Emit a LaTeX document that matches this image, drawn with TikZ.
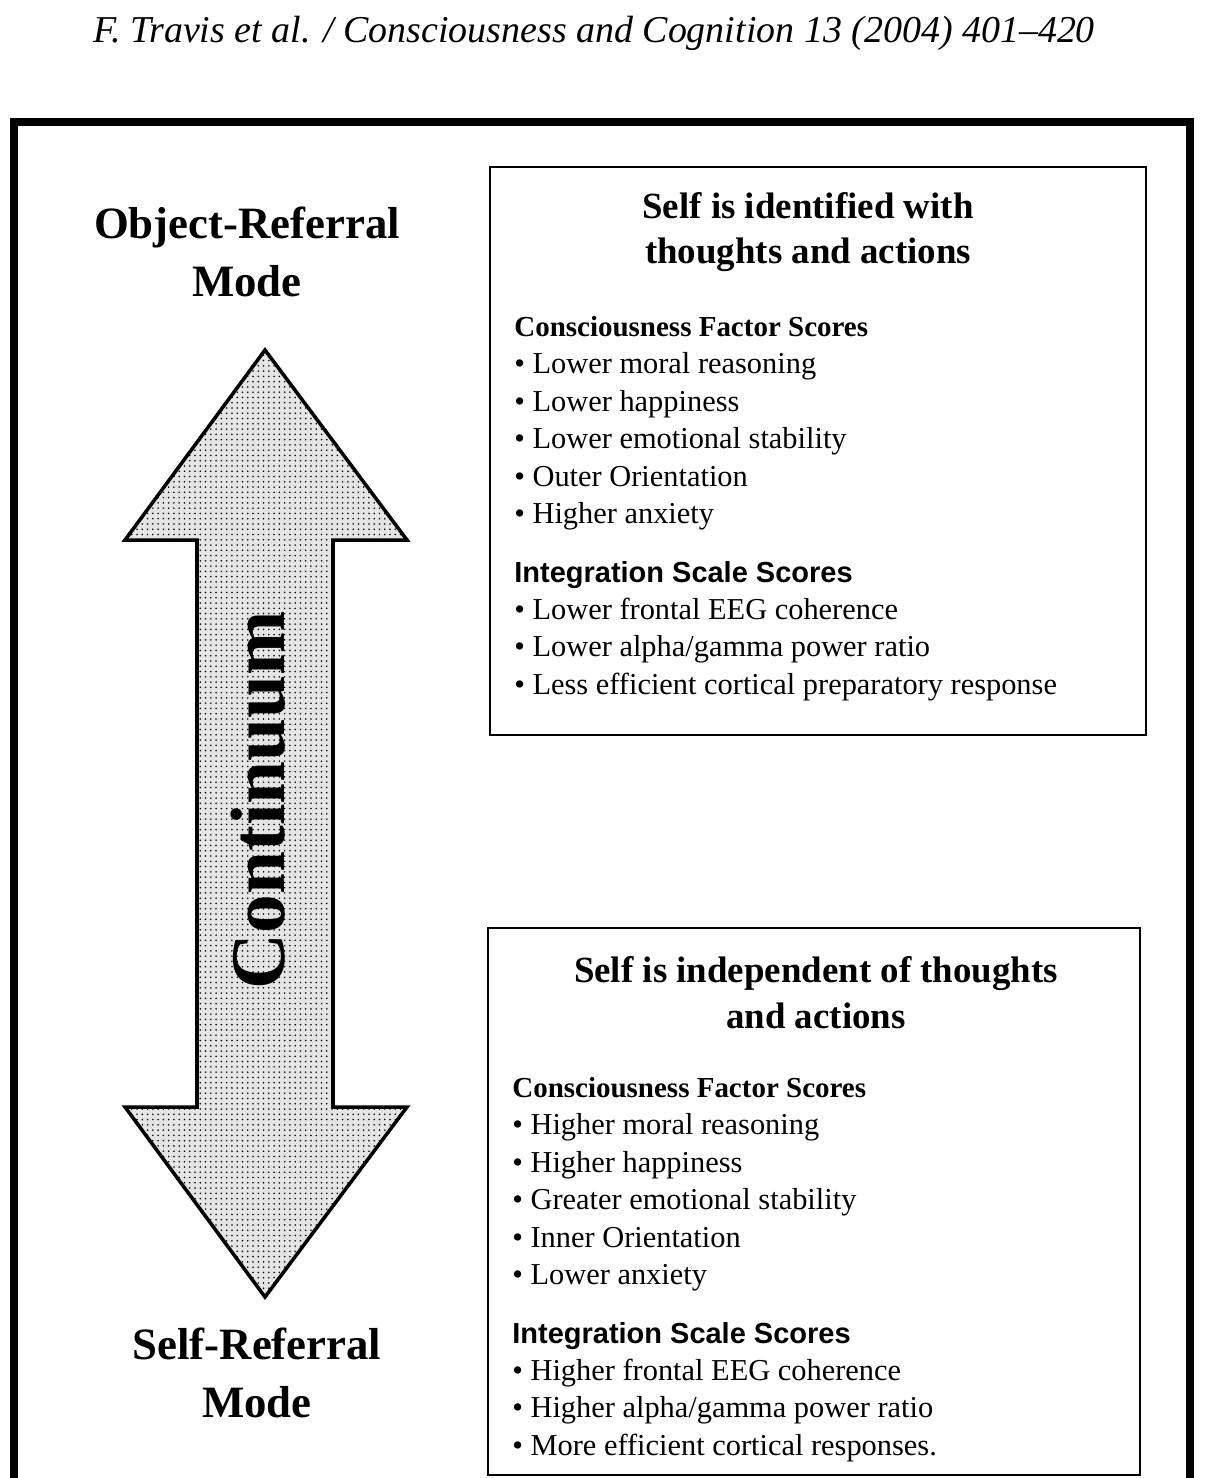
\documentclass[tikz,border=0pt]{standalone}
\usepackage{fontspec}
\setmainfont{Liberation Serif}
\newfontfamily\headsans{Liberation Sans}
\usetikzlibrary{patterns}
\tikzset{
  mode/.style={font=\fontsize{25.5}{33}\selectfont\bfseries,align=center},
  boxhead/.style={font=\fontsize{21}{26}\selectfont\bfseries,align=center},
  items/.style={anchor=north west,align=left,font=\fontsize{17.3}{21.3}\selectfont,inner sep=0pt},
  panel/.style={line width=1.5pt}
}
\newcommand{\sechead}[1]{{\fontsize{16.5}{21.3}\selectfont\bfseries #1}}
\newcommand{\intehead}[1]{{\headsans\fontsize{16.5}{21.3}\selectfont\bfseries #1}}
\newcommand{\itm}{\textbullet\ }
\begin{document}
\begin{tikzpicture}[x=0.02cm,y=-0.02cm]
          % Page
          \useasboundingbox (0,0) rectangle (1205,1478);
          \clip (0,0) rectangle (1205,1478);
          \node[font=\fontsize{21.6}{24}\selectfont\itshape] (cite) at (594,33) {F. Travis et al. / Consciousness and Cognition 13 (2004) 401--420};
          \draw[line width=5pt] (14,122) rectangle (1190,1500);

          % Modes
          \node[mode] (obj) at (247,252) {Object-Referral\\Mode};
          \node[mode] (self) at (257,1373) {Self-Referral\\Mode};

          % Continuum arrow
          \draw[line width=2pt,fill=gray!20,postaction={pattern=dots}]
            (265,350) -- (407,540) -- (333,540) -- (333,1107) -- (407,1107)
            -- (265,1297) -- (125,1107) -- (197,1107) -- (197,540) -- (125,540) -- cycle;
          \node[rotate=90,font=\fontsize{44}{50}\selectfont\bfseries] (cont) at (258,800) {Continuum};

          % Upper panel
          \draw[panel] (490,167) rectangle (1146,735);
          \node[boxhead] (uphead) at (808,232) {Self is identified with\\thoughts and actions};
          \node[items] (uplist) at (514,316) {\sechead{Consciousness Factor Scores}\\
            \itm Lower moral reasoning\\
            \itm Lower happiness\\
            \itm Lower emotional stability\\
            \itm Outer Orientation\\
            \itm Higher anxiety\\[12pt]
            \intehead{Integration Scale Scores}\\
            \itm Lower frontal EEG coherence\\
            \itm Lower alpha/gamma power ratio\\
            \itm Less efficient cortical preparatory response};

          % Lower panel
          \draw[panel] (488,928) rectangle (1140,1475);
          \node[boxhead] (lowhead) at (816,993) {Self is independent of thoughts\\and actions};
          \node[items] (lowlist) at (512,1077) {\sechead{Consciousness Factor Scores}\\
            \itm Higher moral reasoning\\
            \itm Higher happiness\\
            \itm Greater emotional stability\\
            \itm Inner Orientation\\
            \itm Lower anxiety\\[12pt]
            \intehead{Integration Scale Scores}\\
            \itm Higher frontal EEG coherence\\
            \itm Higher alpha/gamma power ratio\\
            \itm More efficient cortical responses.};
\end{tikzpicture}
\end{document}
